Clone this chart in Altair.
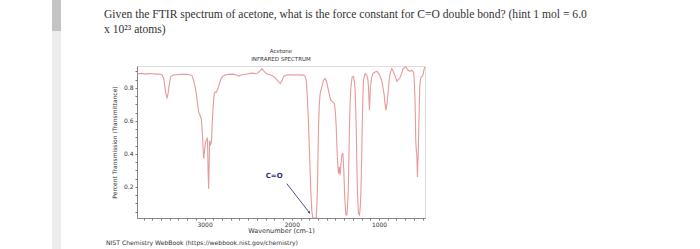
import altair as alt
import pandas as pd

wavenumber = [3775, 3720, 3680, 3640, 3600, 3560, 3520, 3488, 3470, 3458, 3445, 3430, 3418, 3408, 3395, 3385,
              3360, 3320, 3280, 3240, 3200, 3170, 3145, 3126, 3110, 3095, 3080, 3069, 3050, 3038, 3025, 3011,
              3000, 2990, 2981, 2970, 2966, 2960, 2954, 2948, 2943, 2937, 2931, 2925, 2920, 2912, 2904, 2895,
              2889, 2880, 2866, 2852, 2840, 2825, 2812, 2790, 2763, 2720, 2680, 2640, 2610, 2580, 2540, 2500,
              2460, 2420, 2390, 2360, 2343, 2325, 2300, 2270, 2240, 2210, 2180, 2150, 2133, 2115, 2095, 2060,
              2020, 1980, 1940, 1900, 1866, 1850, 1835, 1820, 1810, 1801, 1790, 1781, 1770, 1758, 1740, 1720,
              1712, 1706, 1700, 1694, 1685, 1675, 1655, 1637, 1618, 1600, 1580, 1565, 1552, 1529, 1510, 1500,
              1491, 1483, 1476, 1465, 1458, 1454, 1446, 1438, 1427, 1415, 1404, 1392, 1380, 1369, 1362, 1354,
              1346, 1339, 1331, 1323, 1308, 1293, 1283, 1274, 1268, 1262, 1255, 1247, 1236, 1224, 1215, 1208,
              1200, 1193, 1185, 1178, 1159, 1140, 1128, 1121, 1115, 1110, 1104, 1099, 1085, 1071, 1045, 1025,
              1008, 990, 970, 955, 943, 930, 920, 910, 897, 885, 874, 855, 840, 828, 810, 796,
              780, 760, 742, 723, 692, 681, 666, 645, 628, 610, 601, 594, 587, 579, 573, 567,
              563, 560, 556, 552, 548, 544, 538, 533, 525, 518, 505, 495, 485, 476]
transmittance = [0.885, 0.888, 0.884, 0.887, 0.886, 0.884, 0.884, 0.880, 0.860, 0.816, 0.770, 0.736, 0.770, 0.810, 0.850, 0.870,
                 0.878, 0.880, 0.882, 0.883, 0.882, 0.880, 0.875, 0.847, 0.810, 0.766, 0.700, 0.655, 0.630, 0.615, 0.520, 0.372,
                 0.420, 0.470, 0.483, 0.495, 0.480, 0.300, 0.190, 0.320, 0.480, 0.470, 0.450, 0.470, 0.480, 0.600, 0.665, 0.740,
                 0.766, 0.775, 0.775, 0.790, 0.806, 0.835, 0.857, 0.872, 0.880, 0.882, 0.884, 0.880, 0.872, 0.878, 0.882, 0.886,
                 0.890, 0.888, 0.890, 0.905, 0.917, 0.905, 0.890, 0.882, 0.878, 0.870, 0.855, 0.835, 0.827, 0.840, 0.870, 0.878,
                 0.880, 0.878, 0.880, 0.878, 0.878, 0.872, 0.847, 0.725, 0.600, 0.463, 0.300, 0.160, 0.050, 0.012, 0.012, 0.012,
                 0.100, 0.200, 0.380, 0.564, 0.700, 0.766, 0.810, 0.847, 0.857, 0.835, 0.786, 0.750, 0.725, 0.715, 0.705, 0.650,
                 0.564, 0.450, 0.362, 0.281, 0.300, 0.321, 0.271, 0.330, 0.392, 0.406, 0.301, 0.119, 0.030, 0.030, 0.080, 0.160,
                 0.350, 0.564, 0.720, 0.806, 0.867, 0.870, 0.840, 0.786, 0.680, 0.564, 0.350, 0.160, 0.040, 0.030, 0.080, 0.160,
                 0.350, 0.564, 0.740, 0.847, 0.887, 0.877, 0.850, 0.806, 0.730, 0.665, 0.740, 0.806, 0.860, 0.887, 0.897, 0.900,
                 0.890, 0.875, 0.847, 0.800, 0.766, 0.700, 0.665, 0.700, 0.766, 0.840, 0.887, 0.917, 0.905, 0.887, 0.865, 0.840,
                 0.850, 0.860, 0.887, 0.917, 0.927, 0.917, 0.907, 0.900, 0.907, 0.900, 0.887, 0.820, 0.725, 0.483, 0.420, 0.402,
                 0.330, 0.261, 0.330, 0.382, 0.480, 0.564, 0.700, 0.806, 0.850, 0.867, 0.870, 0.880, 0.910, 0.927]

x_ticks = list(range(500, 3800, 100))
y_ticks = [round(0.05 * i, 2) for i in range(1, 19)]

question_line1 = "Given the FTIR spectrum of acetone, what is the force constant for C=O double bond? (hint 1 mol = 6.0"
question_line2 = "x 10²³ atoms)"
chart_title = ["Acetone", "INFRARED SPECTRUM"]
footer = "NIST Chemistry WebBook (https://webbook.nist.gov/chemistry)"
annot_label = ["C=O"]
annot_w = [2202]
annot_t = [0.265]
arrow_w = [2057]
arrow_t = [0.22]
arrow_w2 = [1798]
arrow_t2 = [0.044]

df = pd.DataFrame({"w": wavenumber, "t": transmittance})

W = 288
H = 152
xscale = alt.Scale(domain=[473, 3775], reverse=True, nice=False, zero=False)
yscale = alt.Scale(domain=[0.012, 0.933], nice=False, zero=False)

axis_font = "DejaVu Sans"

x_axis = alt.Axis(
    values=x_ticks, grid=False, title="Wavenumber (cm-1)",
    labelExpr="datum.value % 1000 === 0 ? format(datum.value, 'd') : ''",
    labelFontSize=6, labelFont=axis_font, labelColor="#333", labelPadding=1,
    titleFontSize=6.5, titleFont=axis_font, titleColor="#333", titleFontWeight="normal", titlePadding=0,
    tickSize=2, tickColor="#777", domainColor="#888", labelOverlap=False,
)
y_axis = alt.Axis(
    values=y_ticks, grid=False, title="Percent Transmission (Transmittance)",
    labelExpr="abs(datum.value * 5 - round(datum.value * 5)) < 0.001 ? format(datum.value, '.1f') : ''",
    labelFontSize=6, labelFont=axis_font, labelColor="#333", labelPadding=2, labelAngle=0,
    titleFontSize=6, titleFont=axis_font, titleColor="#333", titleFontWeight="normal", titlePadding=6,
    tickSize=2, tickColor="#777", domainColor="#888", labelOverlap=False,
)

line = alt.Chart(df).mark_line(color="#e69a9a", strokeWidth=1.1, clip=True).encode(
    x=alt.X("w:Q", scale=xscale, axis=x_axis),
    y=alt.Y("t:Q", scale=yscale, axis=y_axis),
    order="idx:Q",
).transform_window(idx="row_number()")

ann_df = pd.DataFrame({"w": annot_w, "t": annot_t, "label": annot_label})
ann = alt.Chart(ann_df).mark_text(color="#2b2f7a", fontSize=7, fontWeight="bold", font=axis_font).encode(
    x=alt.X("w:Q", scale=xscale, axis=x_axis), y=alt.Y("t:Q", scale=yscale, axis=y_axis), text="label:N"
)

arr_df = pd.DataFrame({"w": arrow_w, "t": arrow_t, "w2": arrow_w2, "t2": arrow_t2})
arrow = alt.Chart(arr_df).mark_rule(color="#3a4270", strokeWidth=0.9).encode(
    x=alt.X("w:Q", scale=xscale, axis=x_axis), y=alt.Y("t:Q", scale=yscale, axis=y_axis), x2="w2:Q", y2="t2:Q"
)
head = alt.Chart(arr_df).mark_point(shape="triangle-up", filled=True, color="#3a4270", size=8, angle=142, opacity=1).encode(
    x=alt.X("w2:Q", scale=xscale, axis=x_axis), y=alt.Y("t2:Q", scale=yscale, axis=y_axis)
)

deco_df = pd.DataFrame({"k": [0]})
gray_bar = alt.Chart(deco_df).mark_rect(color="#ececec", clip=False).encode(
    x=alt.value(52 - 137), x2=alt.value(61 - 137), y=alt.value(-66), y2=alt.value(249 - 66)
)
gray_top = alt.Chart(deco_df).mark_rect(color="#c4c4c4", clip=False).encode(
    x=alt.value(52 - 137), x2=alt.value(61 - 137), y=alt.value(-66), y2=alt.value(31 - 66)
)
text_kw = dict(align="left", baseline="alphabetic", font="Liberation Serif", fontSize=11.6, color="#333")
q1 = alt.Chart(deco_df).mark_text(text=question_line1, **text_kw).encode(x=alt.value(104 - 137), y=alt.value(18 - 66))
q2 = alt.Chart(deco_df).mark_text(text=question_line2, **text_kw).encode(x=alt.value(104 - 137), y=alt.value(33 - 66))
foot = alt.Chart(deco_df).mark_text(text=footer, align="left", baseline="alphabetic", font=axis_font,
                                     fontSize=6.1, color="#333").encode(x=alt.value(106 - 137), y=alt.value(245 - 66))
title_kw = dict(align="center", baseline="alphabetic", font=axis_font, fontSize=5.5, color="#333")
t1 = alt.Chart(deco_df).mark_text(text=chart_title[0], **title_kw).encode(x=alt.value(W / 2), y=alt.value(53 - 66))
t2 = alt.Chart(deco_df).mark_text(text=chart_title[1], **title_kw).encode(x=alt.value(W / 2), y=alt.value(61 - 66))

chart = alt.layer(line, ann, arrow, head, gray_bar, gray_top, q1, q2, foot, t1, t2).properties(
    width=W, height=H,
    autosize=alt.AutoSizeParams(type="none"),
    padding={"left": 137, "top": 66, "right": 700 - 137 - W, "bottom": 249 - 66 - H},
).configure_view(stroke="#888", strokeWidth=1).configure(background="white")

chart.save("out.html", embed_options={"renderer": "svg", "actions": False})
